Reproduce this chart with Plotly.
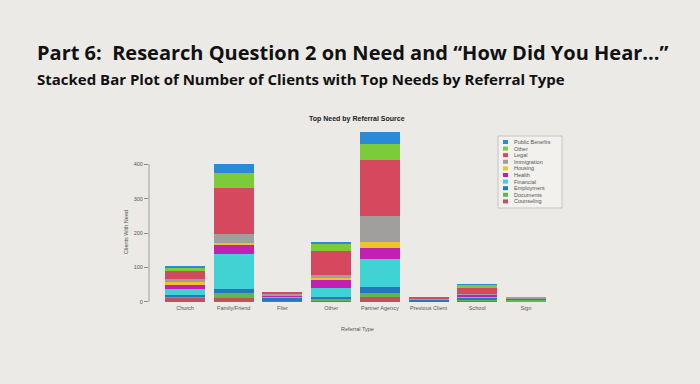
import plotly.graph_objects as go

# ---------------- data ----------------
categories = ["Church", "Family/Friend", "Flier", "Other", "Partner Agency",
              "Previous Client", "School", "Sign"]

# stacking order: bottom -> top
needs = ["Counseling", "Documents", "Employment", "Financial", "Health",
         "Housing", "Immigration", "Legal", "Other", "Public Benefits"]

counseling      = [12, 11, 3, 3, 13, 2, 3, 2]
documents       = [4, 15, 0, 7, 13, 0, 4, 4]
employment      = [4, 12, 8, 3, 16, 3, 3, 4]
financial       = [18, 100, 2, 27, 82, 0, 6, 0]
health          = [10, 26, 6, 22, 32, 1, 4, 0]
housing         = [10, 8, 0, 7, 17, 0, 0, 0]
immigration     = [8, 26, 2, 8, 77, 3, 2, 2]
legal           = [22, 132, 6, 72, 164, 4, 19, 0]
other           = [10, 46, 0, 19, 45, 0, 8, 0]
public_benefits = [7, 24, 0, 7, 34, 0, 2, 0]

series = [counseling, documents, employment, financial, health,
          housing, immigration, legal, other, public_benefits]

colors = ["#c4505e", "#5fb84a", "#2378c0", "#3fd3d3", "#c21fb4",
          "#f2c12a", "#a19f9d", "#d6485e", "#7ccb39", "#2a8ad6"]

y_ticks = [0, 100, 200, 300, 400]

# ---------------- layout helpers ----------------
W, H = 700, 384
L, R, T, B = 149, 138, 120, 81
PW, PH = W - L - R, H - T - B


def px(x):
    return (x - L) / PW


def py(y):
    return (H - B - y) / PH


BG = "#ebeae6"

fig = go.Figure()
for name, vals, col in zip(needs, series, colors):
    fig.add_trace(go.Bar(x=categories, y=vals, name=name,
                         marker=dict(color=col, line=dict(width=0)),
                         showlegend=False))

fig.update_layout(
    width=W, height=H,
    margin=dict(l=L, r=R, t=T, b=B),
    barmode="stack", bargap=0.18,
    paper_bgcolor=BG, plot_bgcolor=BG,
    font=dict(family="Liberation Sans, Arial, sans-serif", color="#555"),
    xaxis=dict(range=[-0.74, 7.74], showgrid=False, showline=False,
               ticks="", tickfont=dict(size=5.5, color="#555"),
               zeroline=False),
    yaxis=dict(range=[-3.8, 529], showgrid=False, showline=False,
               zeroline=False, tickvals=y_ticks, ticks="outside",
               ticklen=4, tickwidth=0.8, tickcolor="#888",
               tickfont=dict(size=5.5, color="#555")),
)

# y axis line spanning the tick range
fig.add_shape(type="line", xref="paper", yref="y", x0=0, x1=0,
              y0=0, y1=400, line=dict(color="#888", width=0.8))

# slide titles
fig.add_annotation(xref="paper", yref="paper", x=px(35), y=py(52),
                   xanchor="left", yanchor="middle", showarrow=False,
                   text="<b>Part 6:  Research Question 2 on Need and \u201cHow Did You Hear...\u201d</b>",
                   font=dict(family="Open Sans, sans-serif", size=20, color="#111"))
fig.add_annotation(xref="paper", yref="paper", x=px(35), y=py(79),
                   xanchor="left", yanchor="middle", showarrow=False,
                   text="<b>Stacked Bar Plot of Number of Clients with Top Needs by Referral Type</b>",
                   font=dict(family="Open Sans, sans-serif", size=15, color="#111"))

# chart title
fig.add_annotation(xref="paper", yref="paper", x=px(357), y=py(119),
                   xanchor="center", yanchor="middle", showarrow=False,
                   text="<b>Top Need by Referral Source</b>",
                   font=dict(size=7, color="#222"))
# axis titles
fig.add_annotation(xref="paper", yref="paper", x=px(357), y=py(329),
                   xanchor="center", yanchor="middle", showarrow=False,
                   text="Referral Type", font=dict(size=5.5, color="#555"))
fig.add_annotation(xref="paper", yref="paper", x=px(126), y=py(232),
                   xanchor="center", yanchor="middle", showarrow=False,
                   textangle=-90,
                   text="Clients With Need", font=dict(size=5.5, color="#555"))

# custom legend (top entry = top of stack)
lx0, lx1, ly0, ly1 = 498, 562, 136, 208
fig.add_shape(type="rect", xref="paper", yref="paper",
              x0=px(lx0), x1=px(lx1), y0=py(ly1), y1=py(ly0),
              line=dict(color="#bbb", width=0.8), fillcolor="#f2f1ee")
for i, (name, col) in enumerate(zip(needs[::-1], colors[::-1])):
    yc = 142 + i * 6.6
    fig.add_shape(type="rect", xref="paper", yref="paper",
                  x0=px(503), x1=px(508), y0=py(yc + 2), y1=py(yc - 2),
                  line=dict(width=0), fillcolor=col)
    fig.add_annotation(xref="paper", yref="paper", x=px(512), y=py(yc),
                       xanchor="left", yanchor="middle", showarrow=False,
                       text=name, font=dict(size=5.5, color="#555"))

fig.write_html("out.html",
               config={"displayModeBar": False},
               post_script="document.body.style.margin='0';"
                           "document.body.style.background='" + BG + "';")
